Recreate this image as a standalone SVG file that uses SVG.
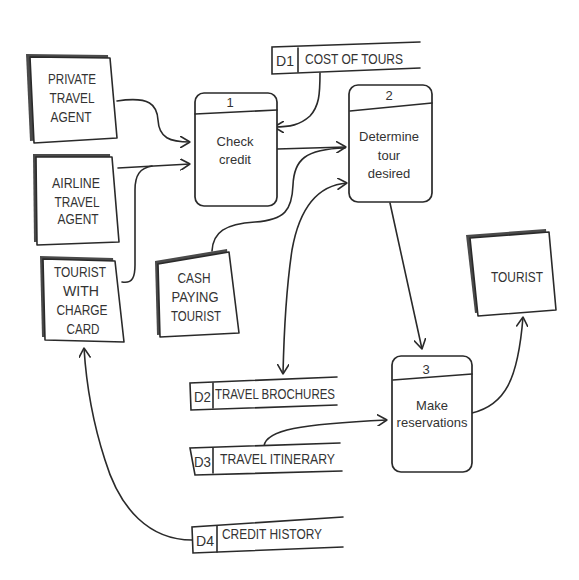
<svg xmlns="http://www.w3.org/2000/svg" width="579" height="580" viewBox="0 0 579 580">
<defs>
<style>
.box{fill:#fff;stroke:#2a2a2a;stroke-width:1.6;stroke-linejoin:round}
.shadow{fill:#4a4a4a;stroke:none}
.proc{fill:#fff;stroke:#2a2a2a;stroke-width:1.7}
.ln{fill:none;stroke:#2a2a2a;stroke-width:1.6;stroke-linecap:round}
.t{font-family:"Liberation Sans","DejaVu Sans",sans-serif;font-size:13px;fill:#333;text-anchor:middle}
.e{font-family:"Liberation Sans","DejaVu Sans",sans-serif;font-size:15px;fill:#333;text-anchor:middle}
.tl{font-family:"Liberation Sans","DejaVu Sans",sans-serif;font-size:14px;fill:#333;text-anchor:start}
.ds{fill:#fff;stroke:#2a2a2a;stroke-width:1.6;stroke-linecap:round}
</style>
<marker id="arr" viewBox="0 0 10 12" refX="10" refY="6" markerWidth="10" markerHeight="12" markerUnits="userSpaceOnUse" orient="auto-start-reverse">
<path d="M0,0 L10,6 L0,12" fill="none" stroke="#2a2a2a" stroke-width="1.6"/>
</marker>
</defs>
<rect width="579" height="580" fill="#fff"/>

<g id="connectors">
<path class="ln" d="M117,101 C150,96 157,105 158,120 C159,138 170,142 190,142" marker-end="url(#arr)"/>
<path class="ln" d="M118,168 L190,164" marker-end="url(#arr)"/>
<path class="ln" d="M122,282 C133,284 135,276 135,265 L135,190 C135,175 140,168 152,166"/>
<path class="ln" d="M320,73 C320,95 319,106 310,116 C300,125 290,127 274,127" marker-end="url(#arr)"/>
<path class="ln" d="M277,149 L346,147" marker-end="url(#arr)"/>
<path class="ln" d="M212,251 C213,232 225,224 255,222 C285,220 292,210 293,185 C294,160 305,149 345,148"/>
<path class="ln" d="M347,183 C320,185 300,205 292,250 C286,290 284,330 283,374" marker-start="url(#arr)" marker-end="url(#arr)"/>
<path class="ln" d="M390,203 L422,349" marker-end="url(#arr)"/>
<path class="ln" d="M264,446 C266,430 300,424 387,420" marker-end="url(#arr)"/>
<path class="ln" d="M472,413 C505,405 518,380 523,317" marker-end="url(#arr)"/>
<path class="ln" d="M192,540 C150,540 120,510 105,460 C92,420 86,380 84,348" marker-end="url(#arr)"/>
</g>

<g id="private-travel-agent">
<polygon class="shadow" points="26,54 108,55 114,135 30,141"/>
<polygon class="box" points="30,57 110,58 117,138 34,143"/>
<text class="e" x="72" y="84" textLength="48" lengthAdjust="spacingAndGlyphs">PRIVATE</text>
<text class="e" x="72" y="103" textLength="45" lengthAdjust="spacingAndGlyphs">TRAVEL</text>
<text class="e" x="71" y="122" textLength="41" lengthAdjust="spacingAndGlyphs">AGENT</text>
</g>

<g id="airline-travel-agent">
<polygon class="shadow" points="33,154 110,154 116,240 34,242"/>
<polygon class="box" points="36,157 112,157 119,242 37,245"/>
<text class="e" x="76" y="188" textLength="48" lengthAdjust="spacingAndGlyphs">AIRLINE</text>
<text class="e" x="77" y="207" textLength="45" lengthAdjust="spacingAndGlyphs">TRAVEL</text>
<text class="e" x="78" y="224" textLength="41" lengthAdjust="spacingAndGlyphs">AGENT</text>
</g>

<g id="tourist-with-charge-card">
<polygon class="shadow" points="40,256 113,258 121,339 42,337"/>
<polygon class="box" points="43,259 115,261 124,342 45,340"/>
<text class="e" x="80" y="277" textLength="52" lengthAdjust="spacingAndGlyphs">TOURIST</text>
<text class="e" x="81" y="296" textLength="36" lengthAdjust="spacingAndGlyphs">WITH</text>
<text class="e" x="82" y="315" textLength="51" lengthAdjust="spacingAndGlyphs">CHARGE</text>
<text class="e" x="83" y="334" textLength="33" lengthAdjust="spacingAndGlyphs">CARD</text>
</g>

<g id="cash-paying-tourist">
<polygon class="shadow" points="155,261 227,249 236,330 157,335"/>
<polygon class="box" points="158,264 229,252 239,333 160,337"/>
<text class="e" x="194" y="283" textLength="33" lengthAdjust="spacingAndGlyphs">CASH</text>
<text class="e" x="195" y="302" textLength="47" lengthAdjust="spacingAndGlyphs">PAYING</text>
<text class="e" x="196" y="321" textLength="50" lengthAdjust="spacingAndGlyphs">TOURIST</text>
</g>

<g id="tourist">
<polygon class="shadow" points="466,235 546,229 553,307 475,313"/>
<polygon class="box" points="470,238 549,232 556,310 478,316"/>
<text class="e" x="517" y="282" textLength="52" lengthAdjust="spacingAndGlyphs">TOURIST</text>
</g>

<g id="p1">
<rect class="proc" x="195" y="93" width="82" height="113" rx="9"/>
<path class="ln" d="M195,114 L277,110"/>
<text class="t" x="230" y="107">1</text>
<text class="t" x="235" y="146">Check</text>
<text class="t" x="235" y="164">credit</text>
</g>

<g id="p2">
<rect class="proc" x="349" y="85" width="83" height="117" rx="9"/>
<path class="ln" d="M350,111 L432,103"/>
<text class="t" x="389" y="100">2</text>
<text class="t" x="389" y="141">Determine</text>
<text class="t" x="389" y="160">tour</text>
<text class="t" x="389" y="178">desired</text>
</g>

<g id="p3">
<rect class="proc" x="392" y="356" width="80" height="116" rx="9"/>
<path class="ln" d="M393,380 L472,374"/>
<text class="t" x="426" y="374">3</text>
<text class="t" x="432" y="410">Make</text>
<text class="t" x="432" y="427">reservations</text>
</g>

<g id="d1">
<path class="ds" d="M420,42 L272,47 L272,74 L420,68"/>
<path class="ln" d="M298,48 L298,72"/>
<text class="tl" x="276" y="66" textLength="18" lengthAdjust="spacingAndGlyphs">D1</text>
<text class="tl" x="305" y="64" textLength="98" lengthAdjust="spacingAndGlyphs">COST OF TOURS</text>
</g>

<g id="d2">
<path class="ds" d="M337,377 L190,383 L191,410 L337,405"/>
<path class="ln" d="M213,383 L213,408"/>
<text class="tl" x="194" y="402" textLength="17" lengthAdjust="spacingAndGlyphs">D2</text>
<text class="tl" x="215" y="399" textLength="120" lengthAdjust="spacingAndGlyphs">TRAVEL BROCHURES</text>
</g>

<g id="d3">
<path class="ds" d="M340,443 L190,448 L195,475 L342,471"/>
<path class="ln" d="M213,448 L213,473"/>
<text class="tl" x="194" y="467" textLength="17" lengthAdjust="spacingAndGlyphs">D3</text>
<text class="tl" x="220" y="464" textLength="115" lengthAdjust="spacingAndGlyphs">TRAVEL ITINERARY</text>
</g>

<g id="d4">
<path class="ds" d="M343,517 L192,527 L193,553 L343,547"/>
<path class="ln" d="M217,526 L217,552"/>
<text class="tl" x="196" y="546" textLength="18" lengthAdjust="spacingAndGlyphs">D4</text>
<text class="tl" x="222" y="539" textLength="100" lengthAdjust="spacingAndGlyphs">CREDIT HISTORY</text>
</g>
</svg>
